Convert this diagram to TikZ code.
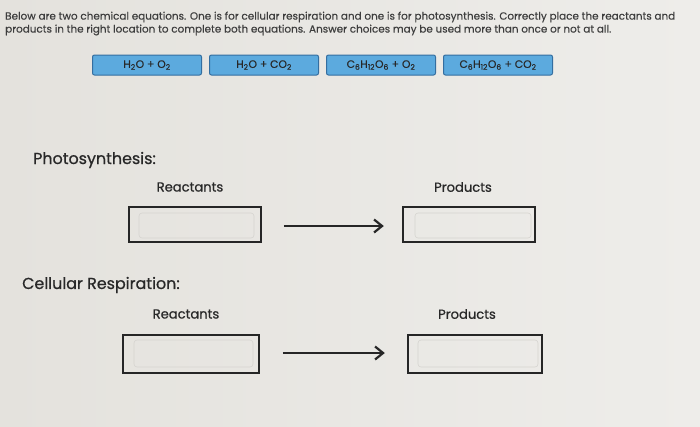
\documentclass[tikz,border=0pt]{standalone}
\usepackage{fontspec}
\setmainfont{Poppins}[FakeBold=0.3]
\newfontfamily\medfont{Poppins}[FakeBold=0.7]
\usetikzlibrary{arrows.meta}
\definecolor{bgl}{RGB}{228,226,221}
\definecolor{bgr}{RGB}{238,237,234}
\definecolor{btnfill}{RGB}{92,170,222}
\definecolor{btnline}{RGB}{52,110,160}
\definecolor{txt}{RGB}{40,40,40}
\definecolor{inner}{RGB}{214,212,208}
\begin{document}
\begin{tikzpicture}[x=1pt,y=-1pt,
  choice/.style={draw=btnline,line width=1pt,fill=btnfill,rounded corners=2pt,minimum width=109pt,minimum height=20pt,inner sep=0pt,font=\fontsize{10.8}{12}\selectfont,text=txt},
  slot/.style={draw=black!85,line width=1.6pt,minimum width=132pt,minimum height=35pt,inner sep=0pt},
  innerslot/.style={draw=inner,line width=0.6pt,rounded corners=3pt,inner sep=0pt},
  head/.style={font=\medfont\fontsize{15.9}{17}\selectfont,text=txt,anchor=west,inner sep=0pt},
  lab/.style={font=\medfont\fontsize{13.1}{15}\selectfont,text=txt,inner sep=0pt},
  instr/.style={font=\fontsize{10.4}{12}\selectfont,text=txt!90,anchor=west,inner sep=0pt},
  arr/.style={-{Straight Barb[length=8pt,width=13pt,line width=2.2pt]},line width=2.2pt,black!85}]
\useasboundingbox[left color=bgl,right color=bgr] (0,0) rectangle (700,426);
\node[instr] (l1) at (5,17) {Below are two chemical equations. One is for cellular respiration and one is for photosynthesis. Correctly place the reactants and};
\node[instr] (l2) at (5,30) {products in the right location to complete both equations. Answer choices may be used more than once or not at all.};
\node[choice] (c1) at (147,65) {H\textsubscript{2}O + O\textsubscript{2}};
\node[choice] (c2) at (264,65) {H\textsubscript{2}O + CO\textsubscript{2}};
\node[choice] (c3) at (381,65) {C\textsubscript{6}H\textsubscript{12}O\textsubscript{6} + O\textsubscript{2}};
\node[choice] (c4) at (498,65) {C\textsubscript{6}H\textsubscript{12}O\textsubscript{6} + CO\textsubscript{2}};
\node[head] (ph) at (33,160) {Photosynthesis:};
\node[lab] (pr) at (190,187) {Reactants};
\node[lab] (pp) at (463,187) {Products};
\node[slot] (s1) at (195,224.5) {};
\node[innerslot,minimum width=115pt,minimum height=25pt] (i1) at (196.5,225.5) {};
\node[slot] (s2) at (469,224.5) {};
\node[innerslot,minimum width=116pt,minimum height=25pt] (i2) at (473,225.5) {};
\draw[arr] (s1.east) ++(22,1.5) coordinate (a1s) -- ++(100,0) coordinate (a1e);
\node[head] (cr) at (22,285) {Cellular Respiration:};
\node[lab] (rr) at (186,314) {Reactants};
\node[lab] (rp) at (467,314) {Products};
\node[slot,minimum width=136pt,minimum height=38pt] (s3) at (191,354) {};
\node[innerslot,minimum width=119pt,minimum height=27pt] (i3) at (193.5,353.5) {};
\node[slot,minimum width=134pt,minimum height=38pt] (s4) at (475,354) {};
\node[innerslot,minimum width=120pt,minimum height=27pt] (i4) at (478,353.5) {};
\draw[arr] (s3.east) ++(23,-1) coordinate (a2s) -- ++(102,0) coordinate (a2e);
\end{tikzpicture}
\end{document}
